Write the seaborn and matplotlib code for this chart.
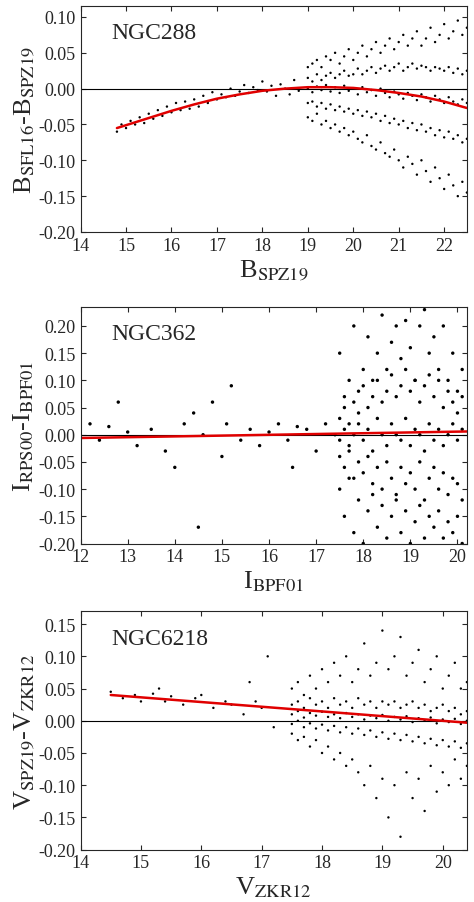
import numpy as np
import pandas as pd
import matplotlib
matplotlib.use("Agg")
import matplotlib.pyplot as plt
import seaborn as sns

# ── NGC288 ──────────────────────────────
p1_sparse_x = [14.8, 14.9, 15.0, 15.1, 15.2, 15.3, 15.4, 15.5, 15.6, 15.7, 15.8, 15.9, 16.0, 16.1,
               16.2, 16.3, 16.4, 16.5, 16.6, 16.7, 16.8, 16.9, 17.0, 17.1, 17.2, 17.3, 17.4, 17.5,
               17.6, 17.7, 17.8, 17.9, 18.0, 18.1, 18.2, 18.3, 18.4, 18.5, 18.6, 18.7, 18.8]
p1_sparse_y = [-0.06, -0.05, -0.055, -0.045, -0.05, -0.04, -0.048, -0.035, -0.042, -0.03, -0.038,
               -0.025, -0.033, -0.02, -0.03, -0.018, -0.028, -0.015, -0.025, -0.01, -0.02, -0.005,
               -0.015, -0.008, -0.012, 0.0, -0.01, -0.004, 0.005, -0.006, 0.002, -0.002, 0.01,
               -0.004, 0.004, -0.01, 0.006, 0.0, -0.008, 0.012, -0.003]
p1_dense_x = [19.0, 19.1, 19.2, 19.3, 19.4, 19.5, 19.6, 19.7, 19.8, 19.9, 20.0, 20.1, 20.2, 20.3,
              20.4, 20.5, 20.6, 20.7, 20.8, 20.9, 21.0, 21.1, 21.2, 21.3, 21.4, 21.5, 21.6, 21.7,
              21.8, 21.9, 22.0, 22.1, 22.2, 22.3, 22.4, 22.5]
p1_dense_y = [
    [0.03, 0.035, 0.04, 0.03, 0.045, 0.04, 0.05, 0.035, 0.045, 0.055, 0.04, 0.05, 0.06, 0.045, 0.055, 0.065, 0.05, 0.06,
     0.07, 0.055, 0.065, 0.075, 0.06, 0.07, 0.08, 0.06, 0.07, 0.085, 0.065, 0.075, 0.09, 0.07, 0.08, 0.095, 0.075, 0.085],
    [0.015, 0.01, 0.02, 0.012, 0.018, 0.022, 0.015, 0.02, 0.025, 0.018, 0.02, 0.028, 0.02, 0.025, 0.03, 0.022, 0.028, 0.032,
     0.025, 0.03, 0.035, 0.025, 0.03, 0.035, 0.028, 0.032, 0.03, 0.025, 0.03, 0.028, 0.025, 0.03, 0.022, 0.028, 0.02, 0.025],
    [0.0, -0.005, 0.003, -0.002, 0.005, -0.004, 0.002, -0.006, 0.004, -0.003, 0.0, -0.008, 0.002, -0.005, -0.002, -0.01,
     0.0, -0.006, -0.012, -0.004, -0.008, -0.014, -0.006, -0.01, -0.016, -0.008, -0.012, -0.018, -0.01, -0.015, -0.02,
     -0.012, -0.018, -0.022, -0.015, -0.02],
    [-0.02, -0.018, -0.025, -0.02, -0.028, -0.022, -0.03, -0.025, -0.032, -0.028, -0.035, -0.03, -0.038, -0.032, -0.04,
     -0.035, -0.045, -0.038, -0.048, -0.042, -0.05, -0.045, -0.055, -0.048, -0.058, -0.05, -0.06, -0.055, -0.065, -0.058,
     -0.068, -0.06, -0.07, -0.065, -0.075, -0.07],
    [-0.04, -0.045, -0.035, -0.05, -0.045, -0.055, -0.05, -0.06, -0.055, -0.065, -0.06, -0.07, -0.075, -0.065, -0.08,
     -0.085, -0.075, -0.09, -0.095, -0.085, -0.1, -0.11, -0.095, -0.105, -0.12, -0.1, -0.115, -0.13, -0.11, -0.125, -0.14,
     -0.12, -0.135, -0.15, -0.13, -0.145],
]
p1_fit_x = [14.8, 15.5, 16.0, 16.5, 17.0, 17.5, 18.0, 18.5, 19.0, 19.5, 20.0, 20.5, 21.0, 21.5, 22.0, 22.5]
p1_fit_y = [-0.055, -0.041, -0.031, -0.022, -0.014, -0.008, -0.003, 0.0, 0.002, 0.002, 0.001, -0.002, -0.006, -0.011,
            -0.018, -0.027]

# ── NGC362 ──────────────────────────────
p2_sparse_x = [12.2, 12.4, 12.6, 12.8, 13.0, 13.2, 13.5, 13.8, 14.0, 14.2, 14.4, 14.5, 14.6, 14.8, 15.0,
               15.1, 15.2, 15.4, 15.6, 15.8, 16.0, 16.2, 16.4, 16.5, 16.6, 16.8, 17.0, 17.2, 17.4]
p2_sparse_y = [0.02, -0.01, 0.015, 0.06, 0.005, -0.02, 0.01, -0.03, -0.06, 0.02, 0.04, -0.17, 0.0, 0.06, -0.04,
               0.02, 0.09, -0.01, 0.01, -0.02, 0.005, 0.02, -0.01, -0.06, 0.015, 0.01, -0.03, 0.02, 0.0]
p2_dense_x = [17.5, 17.6, 17.7, 17.8, 17.9, 18.0, 18.1, 18.2, 18.3, 18.4, 18.5, 18.6, 18.7, 18.8, 18.9,
              19.0, 19.1, 19.2, 19.3, 19.4, 19.5, 19.6, 19.7, 19.8, 19.9, 20.0, 20.1]
p2_dense_y = [
    [0.15, 0.05, 0.1, 0.2, 0.08, 0.12, 0.18, 0.1, 0.15, 0.22, 0.12, 0.17, 0.2, 0.14, 0.21, 0.16, 0.1, 0.2, 0.23, 0.15,
     0.18, 0.12, 0.2, 0.1, 0.15, 0.08, 0.12],
    [0.03, 0.07, 0.02, 0.06, 0.04, 0.09, 0.05, 0.07, 0.1, 0.06, 0.08, 0.11, 0.07, 0.09, 0.12, 0.08, 0.1, 0.06, 0.09, 0.11,
     0.07, 0.1, 0.05, 0.08, 0.06, 0.04, 0.07],
    [-0.01, 0.01, -0.02, 0.0, 0.02, -0.01, 0.01, -0.03, 0.03, 0.0, -0.02, 0.02, 0.0, -0.01, 0.03, -0.02, 0.01, 0.0, -0.03,
     0.02, -0.01, 0.01, -0.02, 0.0, 0.02, -0.01, 0.01],
    [-0.04, -0.06, -0.03, -0.08, -0.05, -0.07, -0.04, -0.09, -0.06, -0.1, -0.05, -0.08, -0.11, -0.06, -0.09, -0.07, -0.1,
     -0.05, -0.12, -0.08, -0.06, -0.1, -0.07, -0.11, -0.08, -0.09, -0.12],
    [-0.1, -0.15, -0.08, -0.18, -0.12, -0.2, -0.14, -0.11, -0.17, -0.13, -0.19, -0.15, -0.12, -0.18, -0.14, -0.2, -0.16,
     -0.13, -0.19, -0.15, -0.17, -0.14, -0.19, -0.16, -0.18, -0.15, -0.2],
]
p2_fit_x = [12.0, 20.2]
p2_fit_y = [-0.006, 0.006]

# ── NGC6218 ─────────────────────────────
p3_sparse_x = [14.5, 14.7, 14.9, 15.0, 15.2, 15.4, 15.5, 15.7, 15.9, 16.0, 16.2, 16.4, 16.5, 16.7, 16.9,
               17.0, 17.2, 15.3, 16.8, 17.1]
p3_sparse_y = [0.045, 0.035, 0.04, 0.03, 0.042, 0.03, 0.038, 0.025, 0.035, 0.04, 0.02, 0.03, 0.025, 0.01, 0.03,
               0.02, -0.01, 0.05, 0.06, 0.1]
p3_dense_x = [17.5, 17.6, 17.7, 17.8, 17.9, 18.0, 18.1, 18.2, 18.3, 18.4, 18.5, 18.6, 18.7, 18.8, 18.9,
              19.0, 19.1, 19.2, 19.3, 19.4, 19.5, 19.6, 19.7, 19.8, 19.9, 20.0, 20.1, 20.2, 20.3, 20.4]
p3_dense_y = [
    [0.05, 0.06, 0.04, 0.07, 0.05, 0.08, 0.06, 0.09, 0.07, 0.1, 0.06, 0.08, 0.12, 0.07, 0.09, 0.14, 0.08, 0.1, 0.13, 0.07,
     0.09, 0.11, 0.06, 0.08, 0.1, 0.05, 0.07, 0.09, 0.05, 0.06],
    [0.025, 0.03, 0.02, 0.035, 0.025, 0.03, 0.02, 0.035, 0.025, 0.03, 0.02, 0.035, 0.025, 0.03, 0.02, 0.03, 0.025, 0.03,
     0.02, 0.025, 0.03, 0.02, 0.025, 0.015, 0.02, 0.025, 0.015, 0.02, 0.01, 0.015],
    [0.01, 0.015, 0.005, 0.012, 0.008, 0.014, 0.006, 0.01, 0.004, 0.012, 0.006, 0.01, 0.002, 0.008, 0.004, 0.009, 0.0,
     0.006, 0.002, 0.007, -0.002, 0.004, 0.0, 0.005, -0.004, 0.002, -0.002, 0.003, -0.005, 0.0],
    [-0.005, 0.0, -0.01, -0.004, -0.012, -0.006, -0.015, -0.008, -0.018, -0.01, -0.02, -0.012, -0.022, -0.015, -0.025,
     -0.018, -0.028, -0.02, -0.03, -0.022, -0.032, -0.025, -0.035, -0.028, -0.038, -0.03, -0.04, -0.032, -0.042, -0.035],
    [-0.02, -0.03, -0.025, -0.04, -0.03, -0.05, -0.04, -0.06, -0.05, -0.07, -0.06, -0.08, -0.1, -0.07, -0.12, -0.09,
     -0.15, -0.1, -0.18, -0.08, -0.12, -0.09, -0.14, -0.07, -0.11, -0.08, -0.1, -0.06, -0.09, -0.07],
]
p3_fit_x = [14.5, 20.4]
p3_fit_y = [0.04, -0.003]

sns.set_style("ticks")
plt.rcParams['font.family'] = ['Liberation Serif', 'DejaVu Serif']
plt.rcParams['mathtext.fontset'] = 'stix'


def to_frame(sx, sy, dx, dys):
    xs = list(sx) + [x for _ in dys for x in dx]
    ys = list(sy) + [y for row in dys for y in row]
    return pd.DataFrame({'x': xs, 'y': ys})


def draw_panel(ax, df, fit_x, fit_y, name, xlim, ylim, xticks, yticks, xlabel, ylabel, size):
    sns.scatterplot(data=df, x='x', y='y', ax=ax, s=size, color='black', edgecolor='none')
    ax.axhline(0, color='black', lw=0.8)
    sns.lineplot(x=fit_x, y=fit_y, ax=ax, color='#e00000', lw=1.8)
    ax.set_xlim(*xlim)
    ax.set_ylim(*ylim)
    ax.set_xticks(xticks)
    ax.set_yticks(yticks)
    ax.set_yticklabels([f'{t:.2f}' for t in yticks])
    ax.tick_params(direction='in', top=True, right=True, labelsize=13)
    ax.text(0.08, 0.93, name, transform=ax.transAxes, fontsize=17, va='top')
    ax.set_xlabel(xlabel, fontsize=19, labelpad=2)
    ax.set_ylabel(ylabel, fontsize=19, labelpad=2)


fig = plt.figure(figsize=(4.74, 9.03), dpi=100)
ax1 = fig.add_axes([0.17, 0.742, 0.815, 0.25])
ax2 = fig.add_axes([0.17, 0.397, 0.815, 0.262])
ax3 = fig.add_axes([0.17, 0.058, 0.815, 0.264])

draw_panel(ax1, to_frame(p1_sparse_x, p1_sparse_y, p1_dense_x, p1_dense_y), p1_fit_x, p1_fit_y, 'NGC288',
           (14, 22.5), (-0.2, 0.115), range(14, 23), [-0.2, -0.15, -0.1, -0.05, 0.0, 0.05, 0.1],
           r'B$_{\rm SPZ19}$', r'B$_{\rm SFL16}$-B$_{\rm SPZ19}$', 3)
draw_panel(ax2, to_frame(p2_sparse_x, p2_sparse_y, p2_dense_x, p2_dense_y), p2_fit_x, p2_fit_y, 'NGC362',
           (12, 20.2), (-0.2, 0.235), range(12, 21),
           [-0.2, -0.15, -0.1, -0.05, 0.0, 0.05, 0.1, 0.15, 0.2],
           r'I$_{\rm BPF01}$', r'I$_{\rm RPS00}$-I$_{\rm BPF01}$', 6)
draw_panel(ax3, to_frame(p3_sparse_x, p3_sparse_y, p3_dense_x, p3_dense_y), p3_fit_x, p3_fit_y, 'NGC6218',
           (14, 20.4), (-0.2, 0.17), range(14, 21),
           [-0.2, -0.15, -0.1, -0.05, 0.0, 0.05, 0.1, 0.15],
           r'V$_{\rm ZKR12}$', r'V$_{\rm SPZ19}$-V$_{\rm ZKR12}$', 3)

fig.savefig('out.png', dpi=100)
